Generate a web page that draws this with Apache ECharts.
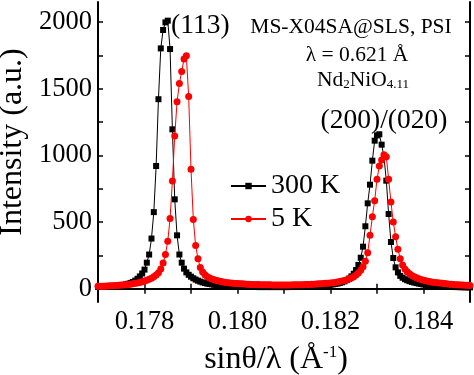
<!DOCTYPE html>
<html>
<head>
<meta charset="utf-8">
<script src="https://cdn.jsdelivr.net/npm/echarts@6/dist/echarts.min.js"></script>
<style>
  html, body { margin: 0; padding: 0; background: #fff; }
  #chart { width: 474px; height: 375px; }
</style>
</head>
<body>
<div id="chart"></div>
<script>
// sin(theta)/lambda sampling points (1/Å)
const sinThetaLambda = [
  0.17700, 0.17705, 0.17710, 0.17715, 0.17720, 0.17725, 0.17730, 0.17735, 0.17740, 0.17745,
  0.17750, 0.17755, 0.17760, 0.17765, 0.17770, 0.17775, 0.17780, 0.17785, 0.17790, 0.17795,
  0.17800, 0.17805, 0.17810, 0.17815, 0.17820, 0.17825, 0.17830, 0.17835, 0.17840, 0.17845,
  0.17850, 0.17855, 0.17860, 0.17865, 0.17870, 0.17875, 0.17880, 0.17885, 0.17890, 0.17895,
  0.17900, 0.17905, 0.17910, 0.17915, 0.17920, 0.17925, 0.17930, 0.17935, 0.17940, 0.17945,
  0.17950, 0.17955, 0.17960, 0.17965, 0.17970, 0.17975, 0.17980, 0.17985, 0.17990, 0.17995,
  0.18000, 0.18005, 0.18010, 0.18015, 0.18020, 0.18025, 0.18030, 0.18035, 0.18040, 0.18045,
  0.18050, 0.18055, 0.18060, 0.18065, 0.18070, 0.18075, 0.18080, 0.18085, 0.18090, 0.18095,
  0.18100, 0.18105, 0.18110, 0.18115, 0.18120, 0.18125, 0.18130, 0.18135, 0.18140, 0.18145,
  0.18150, 0.18155, 0.18160, 0.18165, 0.18170, 0.18175, 0.18180, 0.18185, 0.18190, 0.18195,
  0.18200, 0.18205, 0.18210, 0.18215, 0.18220, 0.18225, 0.18230, 0.18235, 0.18240, 0.18245,
  0.18250, 0.18255, 0.18260, 0.18265, 0.18270, 0.18275, 0.18280, 0.18285, 0.18290, 0.18295,
  0.18300, 0.18305, 0.18310, 0.18315, 0.18320, 0.18325, 0.18330, 0.18335, 0.18340, 0.18345,
  0.18350, 0.18355, 0.18360, 0.18365, 0.18370, 0.18375, 0.18380, 0.18385, 0.18390, 0.18395,
  0.18400, 0.18405, 0.18410, 0.18415, 0.18420, 0.18425, 0.18430, 0.18435, 0.18440, 0.18445,
  0.18450, 0.18455, 0.18460, 0.18465, 0.18470, 0.18475, 0.18480, 0.18485, 0.18490, 0.18495,
  0.18500
];

// 300 K intensity (a.u.)
const intensity300K = [
  13, 13, 14, 14, 15, 16, 17, 18, 20, 22,
  25, 28, 32, 37, 43, 50, 60, 74, 92, 114,
  143, 195, 256, 376, 574, 920, 1421, 1802, 1940, 1997,
  2010, 1797, 1195, 670, 400, 256, 195, 150, 122, 104,
  90, 78, 68, 60, 53, 47, 42, 38, 35, 32,
  29, 27, 25, 23, 22, 21, 20, 19, 18, 17,
  16, 16, 15, 15, 14, 14, 13, 13, 13, 12,
  12, 12, 12, 12, 12, 12, 12, 12, 12, 12,
  12, 12, 12, 13, 13, 13, 14, 14, 15, 15,
  16, 17, 18, 19, 20, 21, 22, 24, 26, 28,
  30, 32, 35, 38, 43, 48, 55, 64, 76, 92,
  112, 140, 178, 232, 315, 468, 640, 780, 960, 1110,
  1150, 1158, 1080, 990, 810, 560, 350, 230, 160, 122,
  96, 82, 71, 63, 56, 51, 46, 42, 38, 35,
  31, 29, 27, 25, 23, 21, 19, 18, 17, 16,
  15, 14, 13, 13, 12, 12, 11, 11, 10, 10,
  10
];

// 5 K intensity (a.u.)
const intensity5K = [
  18, 18, 19, 19, 20, 21, 22, 23, 24, 25,
  27, 28, 30, 32, 34, 37, 40, 43, 47, 52,
  58, 64, 71, 79, 89, 102, 120, 148, 192, 256,
  356, 526, 807, 1145, 1401, 1539, 1629, 1722, 1746, 1441,
  895, 519, 323, 225, 158, 125, 104, 90, 80, 72,
  66, 61, 57, 53, 50, 47, 45, 43, 41, 39,
  38, 37, 36, 35, 34, 33, 32, 32, 31, 31,
  30, 30, 29, 29, 29, 28, 28, 28, 28, 28,
  28, 28, 28, 28, 29, 29, 29, 30, 30, 31,
  31, 32, 33, 34, 35, 36, 37, 38, 40, 41,
  43, 45, 47, 50, 53, 57, 61, 66, 72, 80,
  90, 102, 118, 138, 165, 205, 270, 400, 540, 660,
  820, 920, 965, 1005, 990, 820, 650, 500, 390, 295,
  225, 178, 148, 127, 111, 99, 89, 81, 74, 68,
  63, 59, 55, 52, 49, 46, 44, 42, 40, 38,
  36, 34, 33, 31, 30, 29, 28, 27, 26, 25,
  24
];

const seriesNames = ['300 K', '5 K'];
const xLabelValues = [0.178, 0.180, 0.182, 0.184];
const xTickValues = [0.177, 0.178, 0.179, 0.180, 0.181, 0.182, 0.183, 0.184, 0.185];
const yLabelValues = [0, 500, 1000, 1500, 2000];
const yTickValues = [0, 250, 500, 750, 1000, 1250, 1500, 1750, 2000];

const serif = 'Liberation Serif';

const pairs = (ys) => sinThetaLambda.map((x, i) => [x, ys[i]]);

const chart = echarts.init(document.getElementById('chart'));

const frameAxis = {
  axisLine: { lineStyle: { color: '#000', width: 2 } },
  splitLine: { show: false }
};
const tickStyle = { color: '#000', width: 1.5 };

chart.setOption({
  animation: false,
  backgroundColor: '#fff',
  textStyle: { fontFamily: serif },
  grid: { left: 98, right: 4, top: 2, bottom: 73, outerBoundsMode: 'none', containLabel: false },
  xAxis: [
    {
      ...frameAxis,
      type: 'value',
      position: 'bottom',
      min: 0.177,
      max: 0.185,
      axisTick: { inside: true, length: 5, customValues: xTickValues, lineStyle: tickStyle },
      axisLabel: {
        customValues: xLabelValues,
        formatter: (v) => v.toFixed(3),
        color: '#000', fontFamily: serif, fontSize: 26.5, margin: 7
      },
      name: 'sinθ/λ (Å{sup|-1})',
      nameLocation: 'middle',
      nameGap: 42,
      nameTextStyle: {
        color: '#000', fontFamily: serif, fontSize: 32, lineHeight: 32,
        padding: [0, 16, 0, 0],
        rich: { sup: { fontSize: 17, lineHeight: 20, verticalAlign: 'top', fontFamily: serif, color: '#000' } }
      }
    },
    {
      ...frameAxis,
      type: 'value',
      position: 'top',
      min: 0.177,
      max: 0.185,
      axisTick: { inside: true, length: 5, customValues: xTickValues, lineStyle: tickStyle },
      axisLabel: { show: false }
    }
  ],
  yAxis: [
    {
      ...frameAxis,
      type: 'value',
      position: 'left',
      min: -100,
      max: 2150,
      axisTick: { inside: true, length: 5, customValues: yTickValues, lineStyle: tickStyle },
      axisLabel: {
        customValues: yLabelValues,
        formatter: (v) => String(v),
        color: '#000', fontFamily: serif, fontSize: 26.5, margin: 6
      },
      name: 'Intensity (a.u.)',
      nameLocation: 'middle',
      nameGap: 65,
      nameTextStyle: { color: '#000', fontFamily: serif, fontSize: 32, lineHeight: 32, padding: [0, 0, 0, 20] }
    },
    {
      ...frameAxis,
      type: 'value',
      position: 'right',
      min: -100,
      max: 2150,
      axisTick: { inside: true, length: 5, customValues: yTickValues, lineStyle: tickStyle },
      axisLabel: { show: false }
    }
  ],
  legend: {
    orient: 'vertical',
    left: 230,
    top: 172,
    padding: 0,
    itemWidth: 35,
    itemHeight: 8,
    itemGap: 5,
    textStyle: { color: '#000', fontFamily: serif, fontSize: 28, lineHeight: 28 },
    data: seriesNames
  },
  series: [
    {
      name: seriesNames[0],
      type: 'line',
      data: pairs(intensity300K),
      symbol: 'rect',
      symbolSize: 6,
      lineStyle: { color: '#000', width: 1 },
      itemStyle: { color: '#000' },
      z: 2
    },
    {
      name: seriesNames[1],
      type: 'line',
      data: pairs(intensity5K),
      symbol: 'circle',
      symbolSize: 7,
      lineStyle: { color: '#f00', width: 1 },
      itemStyle: { color: '#f00' },
      z: 3
    }
  ],
  graphic: [
    { type: 'text', left: 171, top: 12, style: { text: '(113)', font: '27.5px ' + serif, fill: '#000' } },
    { type: 'text', style: { x: 351, y: 27, text: 'MS-X04SA@SLS, PSI', font: '21.5px ' + serif, fill: '#000', align: 'center', verticalAlign: 'middle' } },
    { type: 'text', style: { x: 357, y: 55, text: 'λ = 0.621 Å', font: '21.5px ' + serif, fill: '#000', align: 'center', verticalAlign: 'middle' } },
    {
      type: 'text',
      style: {
        x: 363, y: 80, align: 'center', verticalAlign: 'middle',
        text: '{n|Nd}{s|2}{n|NiO}{s|4.11}',
        rich: {
          n: { fontSize: 21.5, lineHeight: 23, fontFamily: serif, fill: '#000' },
          s: { fontSize: 13, lineHeight: 10, verticalAlign: 'bottom', fontFamily: serif, fill: '#000' }
        }
      }
    },
    { type: 'text', style: { x: 384, y: 121, text: '(200)/(020)', font: '27.5px ' + serif, fill: '#000', align: 'center', verticalAlign: 'middle' } }
  ]
});
</script>
</body>
</html>
